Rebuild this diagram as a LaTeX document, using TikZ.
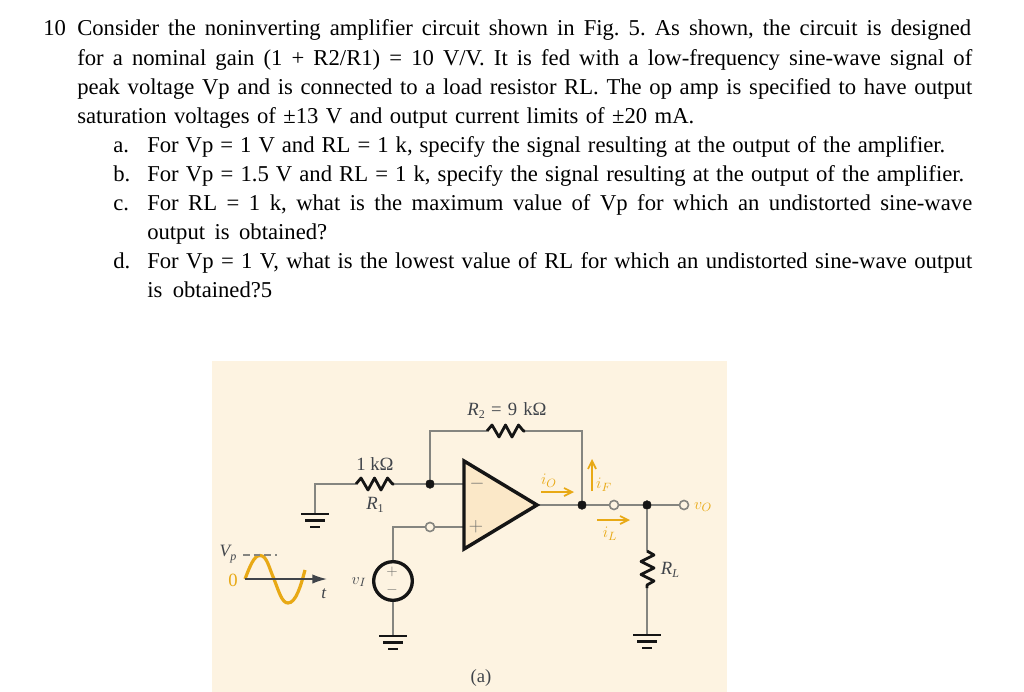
\documentclass[tikz,border=0pt]{standalone}
\usepackage{fontspec}
\setmainfont{Liberation Serif}
\usepackage{amsmath}
\usetikzlibrary{arrows.meta}
\definecolor{panelbg}{HTML}{FDF3E1}
\definecolor{ampfill}{HTML}{FBE8C8}
\definecolor{wirecol}{HTML}{858580}
\definecolor{inkdark}{HTML}{151515}
\definecolor{labelcol}{HTML}{40444A}
\definecolor{signalcol}{HTML}{E8A915}
\newcommand{\textline}[5]{\node[textline] (#1) at (#2,#3) {\frenchspacing\makebox[0.75\dimexpr#4pt\relax][s]{#5}};}
\tikzset{
  textline/.style={anchor=base west,inner sep=0pt,font=\fontsize{17}{20}\selectfont,text=black},
  wire/.style={draw=wirecol,line width=1.4pt},
  part/.style={draw=inkdark,line width=2.1pt,line join=round},
  groundbar/.style={draw=inkdark,line width=2.2pt},
  dotnode/.style={circle,fill=inkdark,draw=inkdark,inner sep=0pt,minimum size=6.5pt},
  opennode/.style={circle,fill=panelbg,draw=wirecol,line width=1.2pt,inner sep=0pt,minimum size=6.8pt},
  lab/.style={inner sep=0pt,text=labelcol,font=\fontsize{12.5}{14}\selectfont},
  biglab/.style={inner sep=0pt,text=labelcol,font=\fontsize{14}{16}\selectfont},
  siglab/.style={inner sep=0pt,text=signalcol,font=\fontsize{12.5}{14}\selectfont},
  currarrow/.style={draw=signalcol,line width=1.3pt,-{Straight Barb[length=6pt,width=6pt]}},
  signmark/.style={inner sep=0pt,text=wirecol!85!black,font=\fontsize{10.5}{10.5}\selectfont},
}
\begin{document}
\begin{tikzpicture}[x=0.75pt,y=-0.75pt]
\useasboundingbox (0,0) rectangle (1024,692);
\fill[white] (0,0) rectangle (1024,692);
\fill[panelbg] (212,361) rectangle (727,692);
% question text
\node[textline] (qnum) at (43,36) {10};
\textline{l1}{77}{36}{894}{Consider the noninverting amplifier circuit shown in Fig. 5. As shown, the circuit is designed}
\textline{l2}{77}{65}{895}{for a nominal gain (1 + R2/R1) = 10 V/V. It is fed with a low-frequency sine-wave signal of}
\textline{l3}{77}{94}{895}{peak voltage Vp and is connected to a load resistor RL. The op amp is specified to have output}
\textline{l4}{77}{123}{617}{saturation voltages of ±13 V and output current limits of ±20 mA.}
\node[textline] (ma) at (113,152) {a.};
\textline{la}{147}{152}{798}{For Vp = 1 V and RL = 1 k, specify the signal resulting at the output of the amplifier.}
\node[textline] (mb) at (113,181) {b.};
\textline{lb}{147}{181}{817}{For Vp = 1.5 V and RL = 1 k, specify the signal resulting at the output of the amplifier.}
\node[textline] (mc) at (113,210) {c.};
\textline{lc}{147}{210}{825}{For RL = 1 k, what is the maximum value of Vp for which an undistorted sine-wave}
\textline{lcc}{147}{239}{180}{output is obtained?}
\node[textline] (md) at (113,268) {d.};
\textline{ld}{147}{268}{825}{For Vp = 1 V, what is the lowest value of RL for which an undistorted sine-wave output}
\textline{ldd}{147}{297}{125}{is obtained?5}
% circuit coordinates
\coordinate (gl) at (315,514);
\coordinate (glc) at (315,484);
\coordinate (r1a) at (356,484);
\coordinate (r1b) at (394,484);
\coordinate (r2a) at (487,431);
\coordinate (r2b) at (525,431);
\coordinate (fbl) at (430,431);
\coordinate (fbr) at (582,431);
\coordinate (inm) at (464,484);
\coordinate (inp) at (464,527);
\coordinate (cor) at (393,527);
\coordinate (tip) at (537,505);
\coordinate (gs) at (393,636);
\coordinate (rla) at (647,551);
\coordinate (rlb) at (647,588);
\coordinate (gr) at (647,635);
% nodes
\node[dotnode] (dm) at (430,484) {};
\node[opennode] (op) at (430,527) {};
\node[dotnode] (dout) at (582,505) {};
\node[opennode] (o1) at (614,505) {};
\node[dotnode] (dl) at (647,505) {};
\node[opennode] (vo) at (684,505) {};
\node[circle,draw=inkdark,line width=2.5pt,inner sep=0pt,minimum size=29pt,fill=panelbg] (src) at (393,581) {};
% wires
\draw[wire] (gl) -- (glc) -- (r1a);
\draw[wire] (r1b) -- (dm) -- (inm);
\draw[wire] (dm) -- (fbl) -- (r2a);
\draw[wire] (r2b) -- (fbr) -- (dout);
\draw[wire] (tip) -- (dout) -- (o1) -- (dl) -- (vo);
\draw[wire] (inp) -- (op) -- (cor) -- (src);
\draw[wire] (src) -- (gs);
\draw[wire] (dl) -- (rla);
\draw[wire] (rlb) -- (gr);
% resistors
\draw[part] (r1a) -- ++(5,-6) -- ++(7,12) -- ++(6.5,-12) -- ++(6.5,12) -- ++(6.5,-12) -- ++(5,6) -- (r1b);
\draw[part] (r2a) -- ++(5,-6) -- ++(7,12) -- ++(6.5,-12) -- ++(6.5,12) -- ++(6.5,-12) -- ++(5,6) -- (r2b);
\draw[part] (rla) -- ++(7,4) -- ++(-13,6.5) -- ++(13,6.5) -- ++(-13,6.5) -- ++(13,6.5) -- ++(-7,4) -- (rlb);
% op amp
\draw[draw=inkdark,fill=ampfill,line width=2.6pt,line join=miter] (464,461) -- (tip) -- (464,549) -- cycle;
\node[signmark,font=\fontsize{14}{14}\selectfont] (minus) at (477,484) {$-$};
\node[signmark,font=\fontsize{14}{14}\selectfont] (plus) at (476,527) {$+$};
% source
\node[signmark] (sp) at (392,572) {$+$};
\node[signmark] (sm) at (392,590) {$-$};
% grounds
\foreach \g in {gl,gs,gr}{
  \draw[groundbar] ([xshift=-14pt*0.75]\g) -- ([xshift=14pt*0.75]\g);
  \draw[groundbar] ([xshift=-10pt*0.75,yshift=-6.5pt*0.75]\g) -- ([xshift=10pt*0.75,yshift=-6.5pt*0.75]\g);
  \draw[groundbar] ([xshift=-5pt*0.75,yshift=-13pt*0.75]\g) -- ([xshift=5pt*0.75,yshift=-13pt*0.75]\g);
}
% current arrows
\coordinate (ioa) at (541,492); \coordinate (iob) at (574,492);
\coordinate (ifa) at (592,491); \coordinate (ifb) at (592,459);
\coordinate (ila) at (597,520); \coordinate (ilb) at (630,520);
\draw[currarrow] (ioa) -- (iob);
\draw[currarrow] (ifa) -- (ifb);
\draw[currarrow] (ila) -- (ilb);
% waveform
\coordinate (wo) at (245,579); \coordinate (wx) at (327,579);
\draw[draw=signalcol,line width=2.4pt] (wo) .. controls (250,566) and (254,555.5) .. (260,555.5)
  .. controls (267,555.5) and (269,568) .. (274,579)
  .. controls (279,592) and (282,603) .. (288,603)
  .. controls (296,603) and (301,585) .. (305,570);
\draw[draw=wirecol,line width=1.2pt,dash pattern=on 5pt off 3pt] (243,555) -- (277,555);
\draw[draw=labelcol,line width=1.1pt,-{Latex[length=11pt,width=7pt]}] (wo) -- (wx);
% labels
\node[biglab] (lr2) at (507,411) {\textit{R}\raisebox{-0.35ex}{\fontsize{9}{10}\selectfont 2}\,\,=\,\,9\,\,kΩ};
\node[biglab] (lr1v) at (375,464) {1 kΩ};
\node[biglab] (lr1) at (375,505) {\textit{R}\raisebox{-0.35ex}{\fontsize{9}{10}\selectfont 1}};
\node[biglab] (lrl) at (670,570) {\textit{R}\raisebox{-0.35ex}{\fontsize{9}{10}\selectfont\textit{L}}};
\node[biglab] (lcap) at (481,678) {(a)};
\node[lab] (lvi) at (359,582) {$v_I$};
\node[lab,font=\fontsize{13}{14}\selectfont] (lvp) at (228,554) {\textit{V}\kern-1pt\raisebox{-0.6ex}{\fontsize{9}{10}\selectfont\textit{p}}};
\node[lab,font=\fontsize{13}{14}\selectfont] (lt) at (324,594) {\textit{t}};
\node[siglab,font=\fontsize{14}{16}\selectfont] (l0) at (233,580) {0};
\node[siglab] (lio) at (549,481) {$i_O$};
\node[siglab] (lif) at (604,485) {$i_F$};
\node[siglab] (lil) at (610,534) {$i_L$};
\node[siglab] (lvo) at (703,507) {$v_O$};
\end{tikzpicture}
\end{document}
